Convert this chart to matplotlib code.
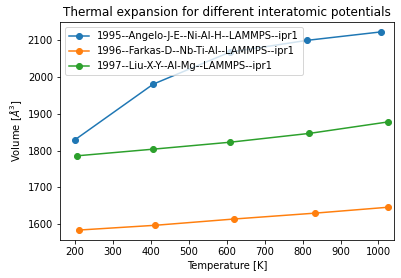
import matplotlib
matplotlib.use("Agg")
import matplotlib.pyplot as plt

# Temperatures [K] and volumes [A^3] per potential
labels = [
    "1995--Angelo-J-E--Ni-Al-H--LAMMPS--ipr1",
    "1996--Farkas-D--Nb-Ti-Al--LAMMPS--ipr1",
    "1997--Liu-X-Y--Al-Mg--LAMMPS--ipr1",
]
temps_angelo = [200, 406, 608, 811, 1006]
vol_angelo = [1830, 1981, 2068, 2100, 2123]
temps_farkas = [209, 411, 618, 832, 1024]
vol_farkas = [1584, 1597, 1614, 1630, 1646]
temps_liu = [205, 405, 609, 818, 1024]
vol_liu = [1786, 1804, 1823, 1847, 1878]

W, H, DPI = 401, 278, 72
fig = plt.figure(figsize=(W / DPI, H / DPI), dpi=DPI)
ax = fig.add_axes([60 / W, 1 - 240 / H, (394 - 60) / W, (240 - 22) / H])

ax.plot(temps_angelo, vol_angelo, "o-", color="#1f77b4", label=labels[0])
ax.plot(temps_farkas, vol_farkas, "o-", color="#ff7f0e", label=labels[1])
ax.plot(temps_liu, vol_liu, "o-", color="#2ca02c", label=labels[2])

ax.set_xlim(160, 1041)
ax.set_ylim(1557, 2150)
ax.set_xticks(range(200, 1001, 100))
ax.set_yticks(range(1600, 2101, 100))
ax.set_xlabel("Temperature [K]")
ax.set_ylabel(r"Volume [$\AA^3$]")
ax.set_title("Thermal expansion for different interatomic potentials")
ax.legend(loc="upper left")

fig.savefig("out.png", dpi=DPI)
